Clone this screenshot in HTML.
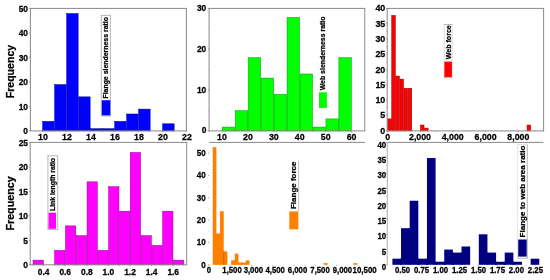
<!DOCTYPE html>
<html><head><meta charset="utf-8"><title>Histograms</title>
<style>html,body{margin:0;padding:0;background:#fff}svg{display:block}text{stroke:#000;stroke-width:.25px}</style>
</head><body>
<svg width="550" height="280" viewBox="0 0 550 280" font-family="'Liberation Sans', sans-serif" font-weight="bold" fill="#000">
<rect x="42.65" y="121.35" width="11.50" height="9.55" fill="#0000ff" stroke="#00008c" stroke-width="0.5"/>
<rect x="54.65" y="84.60" width="11.50" height="46.30" fill="#0000ff" stroke="#00008c" stroke-width="0.5"/>
<rect x="66.65" y="13.55" width="11.50" height="117.35" fill="#0000ff" stroke="#00008c" stroke-width="0.5"/>
<rect x="78.65" y="96.85" width="11.50" height="34.05" fill="#0000ff" stroke="#00008c" stroke-width="0.5"/>
<rect x="90.65" y="128.70" width="11.50" height="2.20" fill="#0000ff" stroke="#00008c" stroke-width="0.5"/>
<rect x="102.65" y="128.70" width="11.50" height="2.20" fill="#0000ff" stroke="#00008c" stroke-width="0.5"/>
<rect x="114.65" y="121.35" width="11.50" height="9.55" fill="#0000ff" stroke="#00008c" stroke-width="0.5"/>
<rect x="126.65" y="114.00" width="11.50" height="16.90" fill="#0000ff" stroke="#00008c" stroke-width="0.5"/>
<rect x="138.65" y="109.10" width="11.50" height="21.80" fill="#0000ff" stroke="#00008c" stroke-width="0.5"/>
<rect x="162.65" y="123.80" width="11.50" height="7.10" fill="#0000ff" stroke="#00008c" stroke-width="0.5"/>
<rect x="30.4" y="8.4" width="156.0" height="122.5" fill="none" stroke="#8e878a" stroke-width="1"/>
<text transform="translate(28.00 134.31) scale(1 1.06)" font-size="8.4" text-anchor="end">0</text>
<text transform="translate(28.00 109.81) scale(1 1.06)" font-size="8.4" text-anchor="end">10</text>
<text transform="translate(28.00 85.31) scale(1 1.06)" font-size="8.4" text-anchor="end">20</text>
<text transform="translate(28.00 60.81) scale(1 1.06)" font-size="8.4" text-anchor="end">30</text>
<text transform="translate(28.00 36.31) scale(1 1.06)" font-size="8.4" text-anchor="end">40</text>
<text transform="translate(28.00 11.81) scale(1 1.06)" font-size="8.4" text-anchor="end">50</text>
<text transform="translate(43.00 140.14) scale(1 1.12)" font-size="8.8" text-anchor="middle">10</text>
<text transform="translate(67.00 140.14) scale(1 1.12)" font-size="8.8" text-anchor="middle">12</text>
<text transform="translate(91.00 140.14) scale(1 1.12)" font-size="8.8" text-anchor="middle">14</text>
<text transform="translate(115.00 140.14) scale(1 1.12)" font-size="8.8" text-anchor="middle">16</text>
<text transform="translate(139.00 140.14) scale(1 1.12)" font-size="8.8" text-anchor="middle">18</text>
<text transform="translate(163.00 140.14) scale(1 1.12)" font-size="8.8" text-anchor="middle">20</text>
<text transform="translate(187.00 140.14) scale(1 1.12)" font-size="8.8" text-anchor="middle">22</text>
<line x1="29.10" y1="130.90" x2="30.40" y2="130.90" stroke="#8e878a" stroke-width="0.8"/>
<line x1="29.10" y1="106.40" x2="30.40" y2="106.40" stroke="#8e878a" stroke-width="0.8"/>
<line x1="29.10" y1="81.90" x2="30.40" y2="81.90" stroke="#8e878a" stroke-width="0.8"/>
<line x1="29.10" y1="57.40" x2="30.40" y2="57.40" stroke="#8e878a" stroke-width="0.8"/>
<line x1="29.10" y1="32.90" x2="30.40" y2="32.90" stroke="#8e878a" stroke-width="0.8"/>
<line x1="29.10" y1="8.40" x2="30.40" y2="8.40" stroke="#8e878a" stroke-width="0.8"/>
<line x1="29.60" y1="118.65" x2="30.40" y2="118.65" stroke="#8e878a" stroke-width="0.6"/>
<line x1="29.60" y1="94.15" x2="30.40" y2="94.15" stroke="#8e878a" stroke-width="0.6"/>
<line x1="29.60" y1="69.65" x2="30.40" y2="69.65" stroke="#8e878a" stroke-width="0.6"/>
<line x1="29.60" y1="45.15" x2="30.40" y2="45.15" stroke="#8e878a" stroke-width="0.6"/>
<line x1="29.60" y1="20.65" x2="30.40" y2="20.65" stroke="#8e878a" stroke-width="0.6"/>
<line x1="42.40" y1="130.90" x2="42.40" y2="132.20" stroke="#8e878a" stroke-width="0.8"/>
<line x1="66.40" y1="130.90" x2="66.40" y2="132.20" stroke="#8e878a" stroke-width="0.8"/>
<line x1="90.40" y1="130.90" x2="90.40" y2="132.20" stroke="#8e878a" stroke-width="0.8"/>
<line x1="114.40" y1="130.90" x2="114.40" y2="132.20" stroke="#8e878a" stroke-width="0.8"/>
<line x1="138.40" y1="130.90" x2="138.40" y2="132.20" stroke="#8e878a" stroke-width="0.8"/>
<line x1="162.40" y1="130.90" x2="162.40" y2="132.20" stroke="#8e878a" stroke-width="0.8"/>
<line x1="186.40" y1="130.90" x2="186.40" y2="132.20" stroke="#8e878a" stroke-width="0.8"/>
<line x1="54.40" y1="130.90" x2="54.40" y2="131.70" stroke="#8e878a" stroke-width="0.6"/>
<line x1="78.40" y1="130.90" x2="78.40" y2="131.70" stroke="#8e878a" stroke-width="0.6"/>
<line x1="102.40" y1="130.90" x2="102.40" y2="131.70" stroke="#8e878a" stroke-width="0.6"/>
<line x1="126.40" y1="130.90" x2="126.40" y2="131.70" stroke="#8e878a" stroke-width="0.6"/>
<line x1="150.40" y1="130.90" x2="150.40" y2="131.70" stroke="#8e878a" stroke-width="0.6"/>
<line x1="174.40" y1="130.90" x2="174.40" y2="131.70" stroke="#8e878a" stroke-width="0.6"/>
<rect x="101.30" y="15.40" width="9.10" height="100.60" fill="#fff"/>
<line x1="101.30" y1="15.40" x2="101.30" y2="116.00" stroke="#999" stroke-width="0.7"/>
<line x1="110.40" y1="15.40" x2="110.40" y2="116.00" stroke="#999" stroke-width="0.7"/>
<line x1="100.95" y1="15.40" x2="110.75" y2="15.40" stroke="#999" stroke-width="0.7"/>
<line x1="100.95" y1="116.00" x2="110.75" y2="116.00" stroke="#999" stroke-width="0.7"/>
<rect x="101.80" y="100.20" width="8.50" height="15.20" fill="#0000ff"/>
<text x="108.50" y="98.60" font-size="7.1" text-anchor="start" transform="rotate(-90 108.50 98.60)" textLength="81.6" lengthAdjust="spacingAndGlyphs">Flange slenderness ratio</text>
<text x="13.80" y="98.30" font-size="10.4" text-anchor="start" transform="rotate(-90 13.80 98.30)" textLength="53.5" lengthAdjust="spacingAndGlyphs">Frequency</text>
<rect x="222.25" y="127.07" width="12.46" height="3.83" fill="#00ff00" stroke="#009a00" stroke-width="0.5"/>
<rect x="235.21" y="110.73" width="12.46" height="20.17" fill="#00ff00" stroke="#009a00" stroke-width="0.5"/>
<rect x="248.17" y="57.65" width="12.46" height="73.25" fill="#00ff00" stroke="#009a00" stroke-width="0.5"/>
<rect x="261.13" y="78.07" width="12.46" height="52.83" fill="#00ff00" stroke="#009a00" stroke-width="0.5"/>
<rect x="274.09" y="94.40" width="12.46" height="36.50" fill="#00ff00" stroke="#009a00" stroke-width="0.5"/>
<rect x="287.05" y="17.43" width="12.46" height="113.47" fill="#00ff00" stroke="#009a00" stroke-width="0.5"/>
<rect x="300.01" y="73.98" width="12.46" height="56.92" fill="#00ff00" stroke="#009a00" stroke-width="0.5"/>
<rect x="312.97" y="127.07" width="12.46" height="3.83" fill="#00ff00" stroke="#009a00" stroke-width="0.5"/>
<rect x="325.93" y="118.90" width="12.46" height="12.00" fill="#00ff00" stroke="#009a00" stroke-width="0.5"/>
<rect x="338.89" y="57.65" width="12.46" height="73.25" fill="#00ff00" stroke="#009a00" stroke-width="0.5"/>
<rect x="209.1" y="8.4" width="155.70000000000002" height="122.5" fill="none" stroke="#8e878a" stroke-width="1"/>
<text transform="translate(206.30 133.41) scale(1 1.06)" font-size="8.4" text-anchor="end">0</text>
<text transform="translate(206.30 92.58) scale(1 1.06)" font-size="8.4" text-anchor="end">10</text>
<text transform="translate(206.30 51.75) scale(1 1.06)" font-size="8.4" text-anchor="end">20</text>
<text transform="translate(206.30 10.91) scale(1 1.06)" font-size="8.4" text-anchor="end">30</text>
<text transform="translate(222.00 140.14) scale(1 1.12)" font-size="8.8" text-anchor="middle">10</text>
<text transform="translate(247.92 140.14) scale(1 1.12)" font-size="8.8" text-anchor="middle">20</text>
<text transform="translate(273.84 140.14) scale(1 1.12)" font-size="8.8" text-anchor="middle">30</text>
<text transform="translate(299.76 140.14) scale(1 1.12)" font-size="8.8" text-anchor="middle">40</text>
<text transform="translate(325.68 140.14) scale(1 1.12)" font-size="8.8" text-anchor="middle">50</text>
<text transform="translate(351.60 140.14) scale(1 1.12)" font-size="8.8" text-anchor="middle">60</text>
<line x1="207.80" y1="130.90" x2="209.10" y2="130.90" stroke="#8e878a" stroke-width="0.8"/>
<line x1="207.80" y1="90.07" x2="209.10" y2="90.07" stroke="#8e878a" stroke-width="0.8"/>
<line x1="207.80" y1="49.23" x2="209.10" y2="49.23" stroke="#8e878a" stroke-width="0.8"/>
<line x1="207.80" y1="8.40" x2="209.10" y2="8.40" stroke="#8e878a" stroke-width="0.8"/>
<line x1="208.30" y1="110.48" x2="209.10" y2="110.48" stroke="#8e878a" stroke-width="0.6"/>
<line x1="208.30" y1="69.65" x2="209.10" y2="69.65" stroke="#8e878a" stroke-width="0.6"/>
<line x1="208.30" y1="28.82" x2="209.10" y2="28.82" stroke="#8e878a" stroke-width="0.6"/>
<line x1="222.00" y1="130.90" x2="222.00" y2="132.20" stroke="#8e878a" stroke-width="0.8"/>
<line x1="247.92" y1="130.90" x2="247.92" y2="132.20" stroke="#8e878a" stroke-width="0.8"/>
<line x1="273.84" y1="130.90" x2="273.84" y2="132.20" stroke="#8e878a" stroke-width="0.8"/>
<line x1="299.76" y1="130.90" x2="299.76" y2="132.20" stroke="#8e878a" stroke-width="0.8"/>
<line x1="325.68" y1="130.90" x2="325.68" y2="132.20" stroke="#8e878a" stroke-width="0.8"/>
<line x1="351.60" y1="130.90" x2="351.60" y2="132.20" stroke="#8e878a" stroke-width="0.8"/>
<line x1="234.96" y1="130.90" x2="234.96" y2="131.70" stroke="#8e878a" stroke-width="0.6"/>
<line x1="260.88" y1="130.90" x2="260.88" y2="131.70" stroke="#8e878a" stroke-width="0.6"/>
<line x1="286.80" y1="130.90" x2="286.80" y2="131.70" stroke="#8e878a" stroke-width="0.6"/>
<line x1="312.72" y1="130.90" x2="312.72" y2="131.70" stroke="#8e878a" stroke-width="0.6"/>
<line x1="338.64" y1="130.90" x2="338.64" y2="131.70" stroke="#8e878a" stroke-width="0.6"/>
<rect x="319.00" y="92.30" width="7.90" height="15.60" fill="#00ff00"/>
<text x="325.40" y="90.30" font-size="6.9" text-anchor="start" transform="rotate(-90 325.40 90.30)" textLength="73.8" lengthAdjust="spacingAndGlyphs">Web slenderness ratio</text>
<rect x="387.65" y="118.90" width="3.60" height="12.00" fill="#ff0000" stroke="#900000" stroke-width="0.5"/>
<rect x="391.75" y="15.39" width="3.60" height="115.51" fill="#ff0000" stroke="#900000" stroke-width="0.5"/>
<rect x="395.85" y="76.03" width="3.60" height="54.88" fill="#ff0000" stroke="#900000" stroke-width="0.5"/>
<rect x="399.95" y="79.09" width="3.60" height="51.81" fill="#ff0000" stroke="#900000" stroke-width="0.5"/>
<rect x="404.05" y="88.28" width="3.60" height="42.62" fill="#ff0000" stroke="#900000" stroke-width="0.5"/>
<rect x="408.15" y="88.28" width="3.60" height="42.62" fill="#ff0000" stroke="#900000" stroke-width="0.5"/>
<rect x="420.45" y="125.03" width="3.60" height="5.88" fill="#ff0000" stroke="#900000" stroke-width="0.5"/>
<rect x="424.55" y="128.09" width="3.60" height="2.81" fill="#ff0000" stroke="#900000" stroke-width="0.5"/>
<rect x="527.05" y="125.03" width="3.60" height="5.88" fill="#ff0000" stroke="#900000" stroke-width="0.5"/>
<rect x="387.2" y="8.4" width="156.40000000000003" height="122.5" fill="none" stroke="#8e878a" stroke-width="1"/>
<text transform="translate(385.30 133.80) scale(1 1.06)" font-size="8.9" text-anchor="end">0</text>
<text transform="translate(385.30 118.48) scale(1 1.06)" font-size="8.9" text-anchor="end">5</text>
<text transform="translate(385.30 103.17) scale(1 1.06)" font-size="8.9" text-anchor="end">10</text>
<text transform="translate(385.30 87.86) scale(1 1.06)" font-size="8.9" text-anchor="end">15</text>
<text transform="translate(385.30 72.55) scale(1 1.06)" font-size="8.9" text-anchor="end">20</text>
<text transform="translate(385.30 57.23) scale(1 1.06)" font-size="8.9" text-anchor="end">25</text>
<text transform="translate(385.30 41.92) scale(1 1.06)" font-size="8.9" text-anchor="end">30</text>
<text transform="translate(385.30 26.61) scale(1 1.06)" font-size="8.9" text-anchor="end">35</text>
<text transform="translate(385.30 11.30) scale(1 1.06)" font-size="8.9" text-anchor="end">40</text>
<text transform="translate(387.60 140.14) scale(1 1.12)" font-size="8.8" text-anchor="middle">0</text>
<text transform="translate(420.00 140.14) scale(1 1.12)" font-size="8.8" text-anchor="middle">2,000</text>
<text transform="translate(452.70 140.14) scale(1 1.12)" font-size="8.8" text-anchor="middle">4,000</text>
<text transform="translate(485.60 140.14) scale(1 1.12)" font-size="8.8" text-anchor="middle">6,000</text>
<text transform="translate(518.30 140.14) scale(1 1.12)" font-size="8.8" text-anchor="middle">8,000</text>
<line x1="385.90" y1="130.90" x2="387.20" y2="130.90" stroke="#8e878a" stroke-width="0.8"/>
<line x1="385.90" y1="115.59" x2="387.20" y2="115.59" stroke="#8e878a" stroke-width="0.8"/>
<line x1="385.90" y1="100.28" x2="387.20" y2="100.28" stroke="#8e878a" stroke-width="0.8"/>
<line x1="385.90" y1="84.96" x2="387.20" y2="84.96" stroke="#8e878a" stroke-width="0.8"/>
<line x1="385.90" y1="69.65" x2="387.20" y2="69.65" stroke="#8e878a" stroke-width="0.8"/>
<line x1="385.90" y1="54.34" x2="387.20" y2="54.34" stroke="#8e878a" stroke-width="0.8"/>
<line x1="385.90" y1="39.03" x2="387.20" y2="39.03" stroke="#8e878a" stroke-width="0.8"/>
<line x1="385.90" y1="23.71" x2="387.20" y2="23.71" stroke="#8e878a" stroke-width="0.8"/>
<line x1="385.90" y1="8.40" x2="387.20" y2="8.40" stroke="#8e878a" stroke-width="0.8"/>
<line x1="386.40" y1="123.24" x2="387.20" y2="123.24" stroke="#8e878a" stroke-width="0.6"/>
<line x1="386.40" y1="107.93" x2="387.20" y2="107.93" stroke="#8e878a" stroke-width="0.6"/>
<line x1="386.40" y1="92.62" x2="387.20" y2="92.62" stroke="#8e878a" stroke-width="0.6"/>
<line x1="386.40" y1="77.31" x2="387.20" y2="77.31" stroke="#8e878a" stroke-width="0.6"/>
<line x1="386.40" y1="61.99" x2="387.20" y2="61.99" stroke="#8e878a" stroke-width="0.6"/>
<line x1="386.40" y1="46.68" x2="387.20" y2="46.68" stroke="#8e878a" stroke-width="0.6"/>
<line x1="386.40" y1="31.37" x2="387.20" y2="31.37" stroke="#8e878a" stroke-width="0.6"/>
<line x1="386.40" y1="16.06" x2="387.20" y2="16.06" stroke="#8e878a" stroke-width="0.6"/>
<line x1="387.40" y1="130.90" x2="387.40" y2="132.20" stroke="#8e878a" stroke-width="0.8"/>
<line x1="420.12" y1="130.90" x2="420.12" y2="132.20" stroke="#8e878a" stroke-width="0.8"/>
<line x1="452.84" y1="130.90" x2="452.84" y2="132.20" stroke="#8e878a" stroke-width="0.8"/>
<line x1="485.56" y1="130.90" x2="485.56" y2="132.20" stroke="#8e878a" stroke-width="0.8"/>
<line x1="518.28" y1="130.90" x2="518.28" y2="132.20" stroke="#8e878a" stroke-width="0.8"/>
<line x1="403.76" y1="130.90" x2="403.76" y2="131.70" stroke="#8e878a" stroke-width="0.6"/>
<line x1="436.48" y1="130.90" x2="436.48" y2="131.70" stroke="#8e878a" stroke-width="0.6"/>
<line x1="469.20" y1="130.90" x2="469.20" y2="131.70" stroke="#8e878a" stroke-width="0.6"/>
<line x1="501.92" y1="130.90" x2="501.92" y2="131.70" stroke="#8e878a" stroke-width="0.6"/>
<line x1="534.64" y1="130.90" x2="534.64" y2="131.70" stroke="#8e878a" stroke-width="0.6"/>
<rect x="444.20" y="24.50" width="8.00" height="53.30" fill="#fff"/>
<line x1="444.20" y1="24.50" x2="444.20" y2="77.80" stroke="#d0d0d0" stroke-width="0.7"/>
<line x1="452.20" y1="24.50" x2="452.20" y2="77.80" stroke="#d0d0d0" stroke-width="0.7"/>
<line x1="443.85" y1="24.50" x2="452.55" y2="24.50" stroke="#999" stroke-width="0.7"/>
<line x1="443.85" y1="77.80" x2="452.55" y2="77.80" stroke="#999" stroke-width="0.7"/>
<rect x="444.40" y="61.60" width="7.50" height="15.50" fill="#ff0000"/>
<text x="450.70" y="59.20" font-size="7.5" text-anchor="start" transform="rotate(-90 450.70 59.20)" textLength="34" lengthAdjust="spacingAndGlyphs">Web force</text>
<rect x="33.05" y="260.15" width="10.30" height="4.65" fill="#ff00ff" stroke="#900090" stroke-width="0.5"/>
<rect x="54.65" y="250.36" width="10.30" height="14.44" fill="#ff00ff" stroke="#900090" stroke-width="0.5"/>
<rect x="65.45" y="225.88" width="10.30" height="38.92" fill="#ff00ff" stroke="#900090" stroke-width="0.5"/>
<rect x="76.25" y="235.67" width="10.30" height="29.13" fill="#ff00ff" stroke="#900090" stroke-width="0.5"/>
<rect x="87.05" y="181.82" width="10.30" height="82.98" fill="#ff00ff" stroke="#900090" stroke-width="0.5"/>
<rect x="97.85" y="250.36" width="10.30" height="14.44" fill="#ff00ff" stroke="#900090" stroke-width="0.5"/>
<rect x="108.65" y="186.71" width="10.30" height="78.09" fill="#ff00ff" stroke="#900090" stroke-width="0.5"/>
<rect x="119.45" y="211.19" width="10.30" height="53.61" fill="#ff00ff" stroke="#900090" stroke-width="0.5"/>
<rect x="130.25" y="152.44" width="10.30" height="112.36" fill="#ff00ff" stroke="#900090" stroke-width="0.5"/>
<rect x="141.05" y="235.67" width="10.30" height="29.13" fill="#ff00ff" stroke="#900090" stroke-width="0.5"/>
<rect x="151.85" y="245.47" width="10.30" height="19.33" fill="#ff00ff" stroke="#900090" stroke-width="0.5"/>
<rect x="162.65" y="211.19" width="10.30" height="53.61" fill="#ff00ff" stroke="#900090" stroke-width="0.5"/>
<rect x="173.45" y="260.15" width="10.30" height="4.65" fill="#ff00ff" stroke="#900090" stroke-width="0.5"/>
<rect x="30.2" y="142.4" width="156.5" height="122.4" fill="none" stroke="#8e878a" stroke-width="1"/>
<text transform="translate(28.00 268.21) scale(1 1.06)" font-size="8.4" text-anchor="end">0</text>
<text transform="translate(28.00 243.73) scale(1 1.06)" font-size="8.4" text-anchor="end">5</text>
<text transform="translate(28.00 219.25) scale(1 1.06)" font-size="8.4" text-anchor="end">10</text>
<text transform="translate(28.00 194.77) scale(1 1.06)" font-size="8.4" text-anchor="end">15</text>
<text transform="translate(28.00 170.29) scale(1 1.06)" font-size="8.4" text-anchor="end">20</text>
<text transform="translate(28.00 145.81) scale(1 1.06)" font-size="8.4" text-anchor="end">25</text>
<text transform="translate(43.60 274.81) scale(1 1.06)" font-size="8.4" text-anchor="middle">0.4</text>
<text transform="translate(65.20 274.81) scale(1 1.06)" font-size="8.4" text-anchor="middle">0.6</text>
<text transform="translate(86.80 274.81) scale(1 1.06)" font-size="8.4" text-anchor="middle">0.8</text>
<text transform="translate(108.40 274.81) scale(1 1.06)" font-size="8.4" text-anchor="middle">1.0</text>
<text transform="translate(130.00 274.81) scale(1 1.06)" font-size="8.4" text-anchor="middle">1.2</text>
<text transform="translate(151.60 274.81) scale(1 1.06)" font-size="8.4" text-anchor="middle">1.4</text>
<text transform="translate(173.20 274.81) scale(1 1.06)" font-size="8.4" text-anchor="middle">1.6</text>
<line x1="28.90" y1="264.80" x2="30.20" y2="264.80" stroke="#8e878a" stroke-width="0.8"/>
<line x1="28.90" y1="240.32" x2="30.20" y2="240.32" stroke="#8e878a" stroke-width="0.8"/>
<line x1="28.90" y1="215.84" x2="30.20" y2="215.84" stroke="#8e878a" stroke-width="0.8"/>
<line x1="28.90" y1="191.36" x2="30.20" y2="191.36" stroke="#8e878a" stroke-width="0.8"/>
<line x1="28.90" y1="166.88" x2="30.20" y2="166.88" stroke="#8e878a" stroke-width="0.8"/>
<line x1="28.90" y1="142.40" x2="30.20" y2="142.40" stroke="#8e878a" stroke-width="0.8"/>
<line x1="29.40" y1="252.56" x2="30.20" y2="252.56" stroke="#8e878a" stroke-width="0.6"/>
<line x1="29.40" y1="228.08" x2="30.20" y2="228.08" stroke="#8e878a" stroke-width="0.6"/>
<line x1="29.40" y1="203.60" x2="30.20" y2="203.60" stroke="#8e878a" stroke-width="0.6"/>
<line x1="29.40" y1="179.12" x2="30.20" y2="179.12" stroke="#8e878a" stroke-width="0.6"/>
<line x1="29.40" y1="154.64" x2="30.20" y2="154.64" stroke="#8e878a" stroke-width="0.6"/>
<line x1="43.60" y1="264.80" x2="43.60" y2="266.10" stroke="#8e878a" stroke-width="0.8"/>
<line x1="65.20" y1="264.80" x2="65.20" y2="266.10" stroke="#8e878a" stroke-width="0.8"/>
<line x1="86.80" y1="264.80" x2="86.80" y2="266.10" stroke="#8e878a" stroke-width="0.8"/>
<line x1="108.40" y1="264.80" x2="108.40" y2="266.10" stroke="#8e878a" stroke-width="0.8"/>
<line x1="130.00" y1="264.80" x2="130.00" y2="266.10" stroke="#8e878a" stroke-width="0.8"/>
<line x1="151.60" y1="264.80" x2="151.60" y2="266.10" stroke="#8e878a" stroke-width="0.8"/>
<line x1="173.20" y1="264.80" x2="173.20" y2="266.10" stroke="#8e878a" stroke-width="0.8"/>
<line x1="32.80" y1="264.80" x2="32.80" y2="265.60" stroke="#8e878a" stroke-width="0.6"/>
<line x1="54.40" y1="264.80" x2="54.40" y2="265.60" stroke="#8e878a" stroke-width="0.6"/>
<line x1="76.00" y1="264.80" x2="76.00" y2="265.60" stroke="#8e878a" stroke-width="0.6"/>
<line x1="97.60" y1="264.80" x2="97.60" y2="265.60" stroke="#8e878a" stroke-width="0.6"/>
<line x1="119.20" y1="264.80" x2="119.20" y2="265.60" stroke="#8e878a" stroke-width="0.6"/>
<line x1="140.80" y1="264.80" x2="140.80" y2="265.60" stroke="#8e878a" stroke-width="0.6"/>
<line x1="162.40" y1="264.80" x2="162.40" y2="265.60" stroke="#8e878a" stroke-width="0.6"/>
<line x1="184.00" y1="264.80" x2="184.00" y2="265.60" stroke="#8e878a" stroke-width="0.6"/>
<rect x="47.90" y="155.80" width="9.80" height="73.70" fill="#fff"/>
<line x1="47.90" y1="155.80" x2="47.90" y2="229.50" stroke="#999" stroke-width="0.7"/>
<line x1="57.70" y1="155.80" x2="57.70" y2="229.50" stroke="#999" stroke-width="0.7"/>
<line x1="47.55" y1="155.80" x2="58.05" y2="155.80" stroke="#999" stroke-width="0.7"/>
<line x1="47.55" y1="229.50" x2="58.05" y2="229.50" stroke="#999" stroke-width="0.7"/>
<rect x="48.50" y="212.70" width="7.50" height="16.10" fill="#ff00ff"/>
<text x="55.00" y="211.00" font-size="7.3" text-anchor="start" transform="rotate(-90 55.00 211.00)" textLength="53" lengthAdjust="spacingAndGlyphs">Link length ratio</text>
<text x="13.60" y="230.60" font-size="10.6" text-anchor="start" transform="rotate(-90 13.60 230.60)" textLength="54.3" lengthAdjust="spacingAndGlyphs">Frequency</text>
<rect x="212.70" y="147.17" width="3.68" height="117.63" fill="#ff8000"/>
<rect x="215.38" y="233.55" width="2.00" height="31.25" fill="#ff8000"/>
<rect x="216.38" y="233.55" width="3.68" height="31.25" fill="#ff8000"/>
<rect x="219.06" y="233.55" width="2.00" height="31.25" fill="#ff8000"/>
<rect x="220.06" y="211.23" width="3.68" height="53.57" fill="#ff8000"/>
<rect x="222.74" y="251.41" width="2.00" height="13.39" fill="#ff8000"/>
<rect x="223.74" y="251.41" width="3.68" height="13.39" fill="#ff8000"/>
<rect x="231.10" y="260.34" width="3.68" height="4.46" fill="#ff8000"/>
<rect x="233.78" y="260.34" width="2.00" height="4.46" fill="#ff8000"/>
<rect x="234.78" y="253.64" width="3.68" height="11.16" fill="#ff8000"/>
<rect x="237.46" y="262.57" width="2.00" height="2.23" fill="#ff8000"/>
<rect x="238.46" y="262.57" width="3.68" height="2.23" fill="#ff8000"/>
<rect x="241.14" y="262.57" width="2.00" height="2.23" fill="#ff8000"/>
<rect x="242.14" y="262.57" width="3.68" height="2.23" fill="#ff8000"/>
<rect x="244.82" y="262.57" width="2.00" height="2.23" fill="#ff8000"/>
<rect x="245.82" y="260.34" width="3.68" height="4.46" fill="#ff8000"/>
<line x1="223.74" y1="251.41" x2="223.74" y2="264.80" stroke="#b05800" stroke-width="0.6"/>
<rect x="323.60" y="263.10" width="4.00" height="1.70" fill="#ff8000"/>
<rect x="353.30" y="263.10" width="4.00" height="1.70" fill="#ff8000"/>
<line x1="209.20" y1="142.40" x2="365.00" y2="142.40" stroke="#8e878a" stroke-width="1"/>
<text transform="translate(205.80 267.50) scale(1 1.06)" font-size="8.1" text-anchor="end">0</text>
<text transform="translate(205.80 245.18) scale(1 1.06)" font-size="8.1" text-anchor="end">10</text>
<text transform="translate(205.80 222.86) scale(1 1.06)" font-size="8.1" text-anchor="end">20</text>
<text transform="translate(205.80 200.54) scale(1 1.06)" font-size="8.1" text-anchor="end">30</text>
<text transform="translate(205.80 178.22) scale(1 1.06)" font-size="8.1" text-anchor="end">40</text>
<text transform="translate(205.80 155.90) scale(1 1.06)" font-size="8.1" text-anchor="end">50</text>
<text transform="translate(209.00 272.88) scale(1 1.06)" font-size="7.75" text-anchor="middle">0</text>
<text transform="translate(232.00 272.88) scale(1 1.06)" font-size="7.75" text-anchor="middle">1,500</text>
<text transform="translate(253.30 272.88) scale(1 1.06)" font-size="7.75" text-anchor="middle">3,000</text>
<text transform="translate(275.20 272.88) scale(1 1.06)" font-size="7.75" text-anchor="middle">4,500</text>
<text transform="translate(297.50 272.88) scale(1 1.06)" font-size="7.75" text-anchor="middle">6,000</text>
<text transform="translate(320.00 272.88) scale(1 1.06)" font-size="7.75" text-anchor="middle">7,500</text>
<text transform="translate(342.40 272.88) scale(1 1.06)" font-size="7.75" text-anchor="middle">9,000</text>
<text transform="translate(364.60 272.93) scale(1 1.06)" font-size="7.9" text-anchor="middle">10,500</text>
<line x1="207.90" y1="264.80" x2="209.20" y2="264.80" stroke="#999" stroke-width="0.8"/>
<line x1="207.90" y1="242.48" x2="209.20" y2="242.48" stroke="#999" stroke-width="0.8"/>
<line x1="207.90" y1="220.16" x2="209.20" y2="220.16" stroke="#999" stroke-width="0.8"/>
<line x1="207.90" y1="197.84" x2="209.20" y2="197.84" stroke="#999" stroke-width="0.8"/>
<line x1="207.90" y1="175.52" x2="209.20" y2="175.52" stroke="#999" stroke-width="0.8"/>
<line x1="207.90" y1="153.20" x2="209.20" y2="153.20" stroke="#999" stroke-width="0.8"/>
<line x1="208.40" y1="253.64" x2="209.20" y2="253.64" stroke="#999" stroke-width="0.6"/>
<line x1="208.40" y1="231.32" x2="209.20" y2="231.32" stroke="#999" stroke-width="0.6"/>
<line x1="208.40" y1="209.00" x2="209.20" y2="209.00" stroke="#999" stroke-width="0.6"/>
<line x1="208.40" y1="186.68" x2="209.20" y2="186.68" stroke="#999" stroke-width="0.6"/>
<line x1="208.40" y1="164.36" x2="209.20" y2="164.36" stroke="#999" stroke-width="0.6"/>
<line x1="209.00" y1="264.80" x2="209.00" y2="266.10" stroke="#aaa" stroke-width="0.8"/>
<line x1="230.30" y1="264.80" x2="230.30" y2="266.10" stroke="#aaa" stroke-width="0.8"/>
<line x1="251.60" y1="264.80" x2="251.60" y2="266.10" stroke="#aaa" stroke-width="0.8"/>
<line x1="272.90" y1="264.80" x2="272.90" y2="266.10" stroke="#aaa" stroke-width="0.8"/>
<line x1="294.20" y1="264.80" x2="294.20" y2="266.10" stroke="#aaa" stroke-width="0.8"/>
<line x1="315.50" y1="264.80" x2="315.50" y2="266.10" stroke="#aaa" stroke-width="0.8"/>
<line x1="336.80" y1="264.80" x2="336.80" y2="266.10" stroke="#aaa" stroke-width="0.8"/>
<line x1="358.10" y1="264.80" x2="358.10" y2="266.10" stroke="#aaa" stroke-width="0.8"/>
<line x1="219.65" y1="264.80" x2="219.65" y2="265.60" stroke="#aaa" stroke-width="0.6"/>
<line x1="240.95" y1="264.80" x2="240.95" y2="265.60" stroke="#aaa" stroke-width="0.6"/>
<line x1="262.25" y1="264.80" x2="262.25" y2="265.60" stroke="#aaa" stroke-width="0.6"/>
<line x1="283.55" y1="264.80" x2="283.55" y2="265.60" stroke="#aaa" stroke-width="0.6"/>
<line x1="304.85" y1="264.80" x2="304.85" y2="265.60" stroke="#aaa" stroke-width="0.6"/>
<line x1="326.15" y1="264.80" x2="326.15" y2="265.60" stroke="#aaa" stroke-width="0.6"/>
<line x1="347.45" y1="264.80" x2="347.45" y2="265.60" stroke="#aaa" stroke-width="0.6"/>
<line x1="298.60" y1="161.00" x2="298.60" y2="211.40" stroke="#aaa" stroke-width="0.7"/>
<rect x="289.30" y="211.40" width="9.00" height="17.90" fill="#ff8000"/>
<text x="296.40" y="209.00" font-size="8.1" text-anchor="start" transform="rotate(-90 296.40 209.00)" textLength="47.5" lengthAdjust="spacingAndGlyphs">Flange force</text>
<rect x="392.40" y="258.70" width="8.64" height="6.10" fill="#000080"/>
<rect x="400.04" y="258.70" width="2.00" height="6.10" fill="#000080"/>
<rect x="401.04" y="228.20" width="8.64" height="36.60" fill="#000080"/>
<rect x="408.68" y="228.20" width="2.00" height="36.60" fill="#000080"/>
<rect x="409.68" y="200.75" width="8.64" height="64.05" fill="#000080"/>
<rect x="417.32" y="258.70" width="2.00" height="6.10" fill="#000080"/>
<rect x="418.32" y="258.70" width="8.64" height="6.10" fill="#000080"/>
<rect x="425.96" y="258.70" width="2.00" height="6.10" fill="#000080"/>
<rect x="426.96" y="158.05" width="8.64" height="106.75" fill="#000080"/>
<rect x="434.60" y="261.75" width="2.00" height="3.05" fill="#000080"/>
<rect x="435.60" y="261.75" width="8.64" height="3.05" fill="#000080"/>
<rect x="443.24" y="261.75" width="2.00" height="3.05" fill="#000080"/>
<rect x="444.24" y="249.55" width="8.64" height="15.25" fill="#000080"/>
<rect x="451.88" y="252.60" width="2.00" height="12.20" fill="#000080"/>
<rect x="452.88" y="252.60" width="8.64" height="12.20" fill="#000080"/>
<rect x="460.52" y="252.60" width="2.00" height="12.20" fill="#000080"/>
<rect x="461.52" y="246.50" width="8.64" height="18.30" fill="#000080"/>
<rect x="478.80" y="234.30" width="8.64" height="30.50" fill="#000080"/>
<rect x="486.44" y="252.60" width="2.00" height="12.20" fill="#000080"/>
<rect x="487.44" y="252.60" width="8.64" height="12.20" fill="#000080"/>
<rect x="495.08" y="261.75" width="2.00" height="3.05" fill="#000080"/>
<rect x="496.08" y="261.75" width="8.64" height="3.05" fill="#000080"/>
<rect x="503.72" y="261.75" width="2.00" height="3.05" fill="#000080"/>
<rect x="504.72" y="252.60" width="8.64" height="12.20" fill="#000080"/>
<rect x="512.36" y="261.75" width="2.00" height="3.05" fill="#000080"/>
<rect x="513.36" y="261.75" width="8.64" height="3.05" fill="#000080"/>
<rect x="530.64" y="258.70" width="8.64" height="6.10" fill="#000080"/>
<line x1="387.30" y1="142.40" x2="543.40" y2="142.40" stroke="#8e878a" stroke-width="1"/>
<line x1="387.30" y1="142.40" x2="387.30" y2="264.80" stroke="#b4b0b0" stroke-width="1"/>
<clipPath id="c6"><rect x="370" y="141.2" width="20" height="139"/></clipPath><g clip-path="url(#c6)">
<text transform="translate(386.20 269.88) scale(1 1.15)" font-size="7.9" text-anchor="end">0</text>
<text transform="translate(386.20 254.63) scale(1 1.15)" font-size="7.9" text-anchor="end">5</text>
<text transform="translate(386.20 239.38) scale(1 1.15)" font-size="7.9" text-anchor="end">10</text>
<text transform="translate(386.20 224.13) scale(1 1.15)" font-size="7.9" text-anchor="end">15</text>
<text transform="translate(386.20 208.88) scale(1 1.15)" font-size="7.9" text-anchor="end">20</text>
<text transform="translate(386.20 193.63) scale(1 1.15)" font-size="7.9" text-anchor="end">25</text>
<text transform="translate(386.20 178.38) scale(1 1.15)" font-size="7.9" text-anchor="end">30</text>
<text transform="translate(386.20 163.13) scale(1 1.15)" font-size="7.9" text-anchor="end">35</text>
<text transform="translate(386.20 147.88) scale(1 1.15)" font-size="7.9" text-anchor="end">40</text>
</g>
<text transform="translate(402.60 273.09) scale(1 1.06)" font-size="7.8" text-anchor="middle">0.50</text>
<text transform="translate(421.57 273.09) scale(1 1.06)" font-size="7.8" text-anchor="middle">0.75</text>
<text transform="translate(440.54 273.09) scale(1 1.06)" font-size="7.8" text-anchor="middle">1.00</text>
<text transform="translate(459.51 273.09) scale(1 1.06)" font-size="7.8" text-anchor="middle">1.25</text>
<text transform="translate(478.48 273.09) scale(1 1.06)" font-size="7.8" text-anchor="middle">1.50</text>
<text transform="translate(497.45 273.09) scale(1 1.06)" font-size="7.8" text-anchor="middle">1.75</text>
<text transform="translate(516.42 273.09) scale(1 1.06)" font-size="7.8" text-anchor="middle">2.00</text>
<text transform="translate(535.39 273.09) scale(1 1.06)" font-size="7.8" text-anchor="middle">2.25</text>
<line x1="386.00" y1="264.80" x2="387.30" y2="264.80" stroke="#999" stroke-width="0.8"/>
<line x1="386.00" y1="249.55" x2="387.30" y2="249.55" stroke="#999" stroke-width="0.8"/>
<line x1="386.00" y1="234.30" x2="387.30" y2="234.30" stroke="#999" stroke-width="0.8"/>
<line x1="386.00" y1="219.05" x2="387.30" y2="219.05" stroke="#999" stroke-width="0.8"/>
<line x1="386.00" y1="203.80" x2="387.30" y2="203.80" stroke="#999" stroke-width="0.8"/>
<line x1="386.00" y1="188.55" x2="387.30" y2="188.55" stroke="#999" stroke-width="0.8"/>
<line x1="386.00" y1="173.30" x2="387.30" y2="173.30" stroke="#999" stroke-width="0.8"/>
<line x1="386.00" y1="158.05" x2="387.30" y2="158.05" stroke="#999" stroke-width="0.8"/>
<line x1="386.00" y1="142.80" x2="387.30" y2="142.80" stroke="#999" stroke-width="0.8"/>
<line x1="386.50" y1="257.18" x2="387.30" y2="257.18" stroke="#999" stroke-width="0.6"/>
<line x1="386.50" y1="241.93" x2="387.30" y2="241.93" stroke="#999" stroke-width="0.6"/>
<line x1="386.50" y1="226.68" x2="387.30" y2="226.68" stroke="#999" stroke-width="0.6"/>
<line x1="386.50" y1="211.43" x2="387.30" y2="211.43" stroke="#999" stroke-width="0.6"/>
<line x1="386.50" y1="196.18" x2="387.30" y2="196.18" stroke="#999" stroke-width="0.6"/>
<line x1="386.50" y1="180.93" x2="387.30" y2="180.93" stroke="#999" stroke-width="0.6"/>
<line x1="386.50" y1="165.68" x2="387.30" y2="165.68" stroke="#999" stroke-width="0.6"/>
<line x1="386.50" y1="150.43" x2="387.30" y2="150.43" stroke="#999" stroke-width="0.6"/>
<line x1="402.60" y1="264.80" x2="402.60" y2="266.10" stroke="#aaa" stroke-width="0.8"/>
<line x1="421.57" y1="264.80" x2="421.57" y2="266.10" stroke="#aaa" stroke-width="0.8"/>
<line x1="440.54" y1="264.80" x2="440.54" y2="266.10" stroke="#aaa" stroke-width="0.8"/>
<line x1="459.51" y1="264.80" x2="459.51" y2="266.10" stroke="#aaa" stroke-width="0.8"/>
<line x1="478.48" y1="264.80" x2="478.48" y2="266.10" stroke="#aaa" stroke-width="0.8"/>
<line x1="497.45" y1="264.80" x2="497.45" y2="266.10" stroke="#aaa" stroke-width="0.8"/>
<line x1="516.42" y1="264.80" x2="516.42" y2="266.10" stroke="#aaa" stroke-width="0.8"/>
<line x1="535.39" y1="264.80" x2="535.39" y2="266.10" stroke="#aaa" stroke-width="0.8"/>
<line x1="412.09" y1="264.80" x2="412.09" y2="265.60" stroke="#aaa" stroke-width="0.6"/>
<line x1="431.06" y1="264.80" x2="431.06" y2="265.60" stroke="#aaa" stroke-width="0.6"/>
<line x1="450.03" y1="264.80" x2="450.03" y2="265.60" stroke="#aaa" stroke-width="0.6"/>
<line x1="469.00" y1="264.80" x2="469.00" y2="265.60" stroke="#aaa" stroke-width="0.6"/>
<line x1="487.97" y1="264.80" x2="487.97" y2="265.60" stroke="#aaa" stroke-width="0.6"/>
<line x1="506.94" y1="264.80" x2="506.94" y2="265.60" stroke="#aaa" stroke-width="0.6"/>
<line x1="525.90" y1="264.80" x2="525.90" y2="265.60" stroke="#aaa" stroke-width="0.6"/>
<rect x="517.40" y="144.80" width="9.90" height="113.40" fill="#fff"/>
<line x1="517.40" y1="144.80" x2="517.40" y2="258.20" stroke="#ddd" stroke-width="0.7"/>
<line x1="527.30" y1="144.80" x2="527.30" y2="258.20" stroke="#999" stroke-width="0.7"/>
<line x1="517.05" y1="144.80" x2="527.65" y2="144.80" stroke="#ccc" stroke-width="0.7"/>
<line x1="517.05" y1="258.20" x2="527.65" y2="258.20" stroke="#999" stroke-width="0.7"/>
<rect x="518.20" y="239.50" width="8.50" height="17.10" fill="#000080"/>
<text x="524.70" y="237.40" font-size="8.0" text-anchor="start" transform="rotate(-90 524.70 237.40)" textLength="91.8" lengthAdjust="spacingAndGlyphs">Flange to web area ratio</text>
</svg>
</body></html>
